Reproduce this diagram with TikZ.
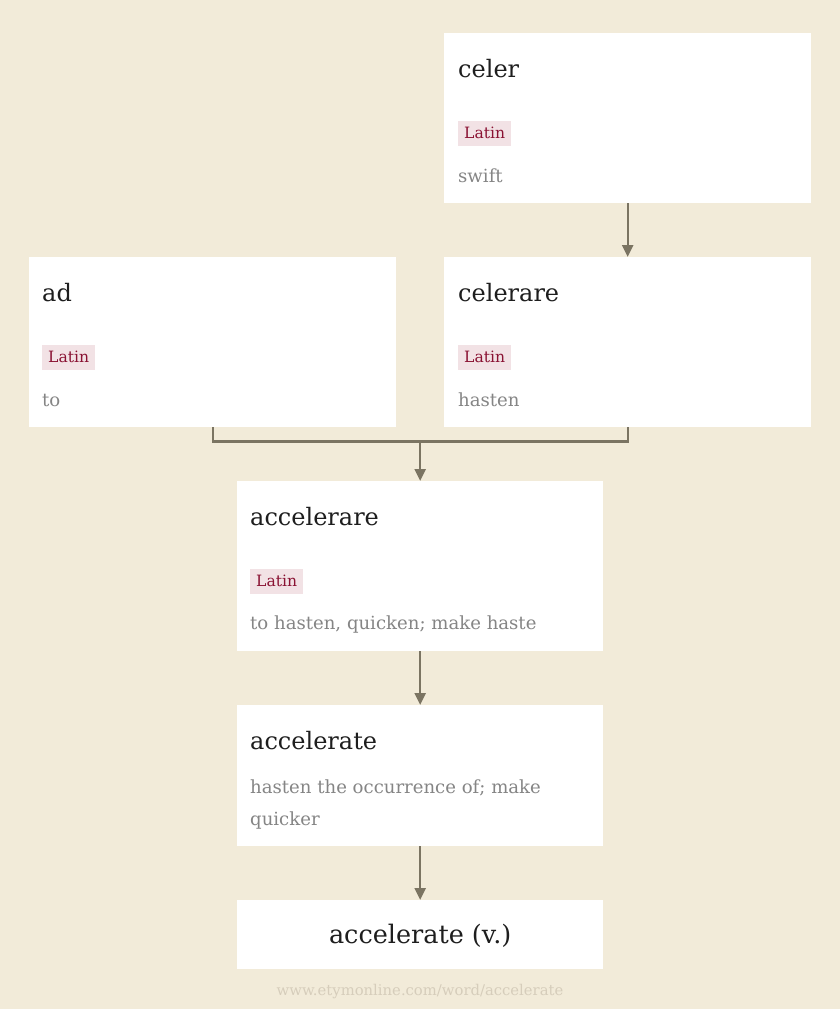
\documentclass[tikz,border=0pt]{standalone}
\usepackage{fontspec}
\setmainfont{DejaVu Serif}
\usetikzlibrary{arrows.meta,calc}
\definecolor{bgc}{HTML}{F2EBD9}
\definecolor{titc}{HTML}{1E1E1E}
\definecolor{defc}{HTML}{858585}
\definecolor{tagc}{HTML}{8A1233}
\definecolor{tagbg}{HTML}{F2E2E5}
\definecolor{linec}{HTML}{7B7462}
\definecolor{footc}{HTML}{D6CDBB}
\tikzset{
  box/.style={fill=white, draw=none, inner sep=0pt, anchor=north west},
  wtitle/.style={font=\fontsize{24}{28}\selectfont, text=titc, inner sep=0pt, anchor=base west},
  tagbox/.style={font=\fontsize{15.6}{18}\selectfont, text=tagc, fill=tagbg, inner xsep=6pt, inner ysep=0pt, minimum height=25pt, text height=11pt, text depth=1pt, anchor=west},
  wdef/.style={font=\fontsize{18.1}{22}\selectfont, text=defc, inner sep=0pt, anchor=base west},
  link/.style={draw=linec, line width=2.4pt},
  conn/.style={link, -{Triangle[length=12pt,width=11pt]}},
}
\begin{document}
\begin{tikzpicture}[x=1pt,y=-1pt]
\fill[bgc] (0,0) rectangle (840,1009);
\useasboundingbox (0,0) rectangle (840,1009);
% boxes
\node[box, minimum width=367pt, minimum height=170pt] (celer) at (444,33) {};
\node[box, minimum width=367pt, minimum height=170pt] (ad) at (29,257) {};
\node[box, minimum width=367pt, minimum height=170pt] (celerare) at (444,257) {};
\node[box, minimum width=366pt, minimum height=170pt] (accelerare) at (237,481) {};
\node[box, minimum width=366pt, minimum height=141pt] (accelerate) at (237,705) {};
\node[box, minimum width=366pt, minimum height=69pt] (final) at (237,900) {};
% celer
\node[wtitle] (celerT) at ($(celer.north west)+(14,44)$) {celer};
\node[tagbox] (celerL) at ($(celer.north west)+(14,100)$) {Latin};
\node[wdef] (celerD) at ($(celer.north west)+(14,149)$) {swift};
% ad
\node[wtitle] (adT) at ($(ad.north west)+(13,44)$) {ad};
\node[tagbox] (adL) at ($(ad.north west)+(13,100)$) {Latin};
\node[wdef] (adD) at ($(ad.north west)+(13,149)$) {to};
% celerare
\node[wtitle] (celerareT) at ($(celerare.north west)+(14,44)$) {celerare};
\node[tagbox] (celerareL) at ($(celerare.north west)+(14,100)$) {Latin};
\node[wdef] (celerareD) at ($(celerare.north west)+(14,149)$) {hasten};
% accelerare
\node[wtitle] (accelerareT) at ($(accelerare.north west)+(13,44)$) {accelerare};
\node[tagbox] (accelerareL) at ($(accelerare.north west)+(13,100)$) {Latin};
\node[wdef] (accelerareD) at ($(accelerare.north west)+(13,148)$) {to hasten, quicken; make haste};
% accelerate
\node[wtitle] (accelerateT) at ($(accelerate.north west)+(13,44)$) {accelerate};
\node[wdef] (accelerateD1) at ($(accelerate.north west)+(13,88)$) {hasten the occurrence of; make};
\node[wdef] (accelerateD2) at ($(accelerate.north west)+(13,120)$) {quicker};
% final
\node[font=\fontsize{25.5}{30}\selectfont, text=titc, inner sep=0pt] (finalT) at ($(final.center)+(0,1)$) {accelerate (v.)};
% footer
\node[font=\fontsize{14.8}{16}\selectfont, text=footc, inner sep=0pt] (footer) at (420,992) {www.etymonline.com/word/accelerate};
% connectors
\draw[conn] (celer.south) -- (celerare.north);
\coordinate (m) at ($(ad.south)+(0,14)$);
\draw[link] (ad.south) -- (m) -| (celerare.south);
\draw[conn] (accelerare.north |- m) -- (accelerare.north);
\draw[conn] (accelerare.south) -- (accelerate.north);
\draw[conn] (accelerate.south) -- (final.north);
\end{tikzpicture}
\end{document}
